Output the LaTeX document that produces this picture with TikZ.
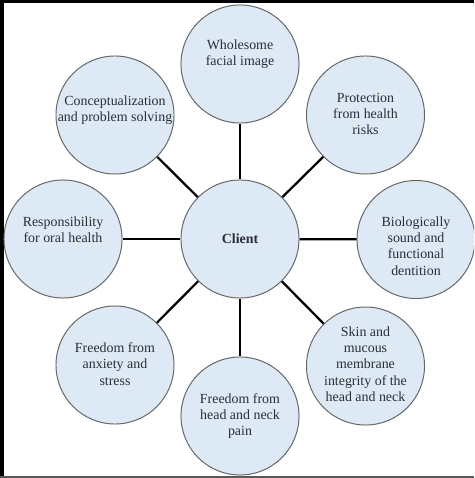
\documentclass[tikz,border=0pt]{standalone}
\usepackage{fontspec}
\setmainfont{Liberation Serif}
\newfontfamily\bubblefont{Liberation Serif}
\usepackage{tikz}
\definecolor{bubblefill}{RGB}{221,233,244}
\definecolor{inktext}{RGB}{42,46,54}
\tikzset{
bubble/.style={circle,draw=black!60,line width=0.7pt,fill=bubblefill,minimum size=2.95cm,inner sep=0pt},
txt/.style={align=center,text=inktext,font=\bubblefont\fontsize{9.9}{11.6}\selectfont},
spoke/.style={line width=1.6pt}
}

\begin{document}
\begin{tikzpicture}[x=0.025cm,y=-0.025cm]
\useasboundingbox (0,0) rectangle (474,478);
\clip (0,0) rectangle (474,478);
% frame of the scan
\fill (0,0) rectangle (474,3.5);
\fill (0,0) rectangle (3.5,478);
\fill[black!65] (0,476) rectangle (474,478);

% circles
\node[bubble] (cl) at (240,239) {};
\node[bubble] (wh) at (240,64) {};
\node[bubble] (pr) at (365.5,115) {};
\node[bubble] (bi) at (416,239.5) {};
\node[bubble] (sk) at (365.5,366) {};
\node[bubble] (fp) at (240,416) {};
\node[bubble] (fa) at (115,365) {};
\node[bubble] (re) at (63,239) {};
\node[bubble] (co) at (115,115) {};

% spokes
\foreach \n in {wh,pr,bi,sk,fp,fa,re,co}{
\draw[spoke] (cl) -- (\n);
}

% texts
\node[txt,font=\bubblefont\fontsize{9.9}{11.6}\selectfont\bfseries] (clt) at (240,239) {Client};
\node[txt] (wht) at (240,54) {Wholesome\\facial image};
\node[txt] (prt) at (365.5,114) {Protection\\from health\\risks};
\node[txt] (bit) at (416,246) {Biologically\\sound and\\functional\\dentition};
\node[txt] (skt) at (365.5,364) {Skin and\\mucous\\membrane\\integrity of the\\head and neck};
\node[txt] (fpt) at (240,416) {Freedom from\\head and neck\\pain};
\node[txt] (fat) at (115,364) {Freedom from\\anxiety and\\stress};
\node[txt] (ret) at (63,230) {Responsibility\\for oral health};
\node[txt] (cot) at (115,110) {Conceptualization\\and problem solving};
\end{tikzpicture}
\end{document}
